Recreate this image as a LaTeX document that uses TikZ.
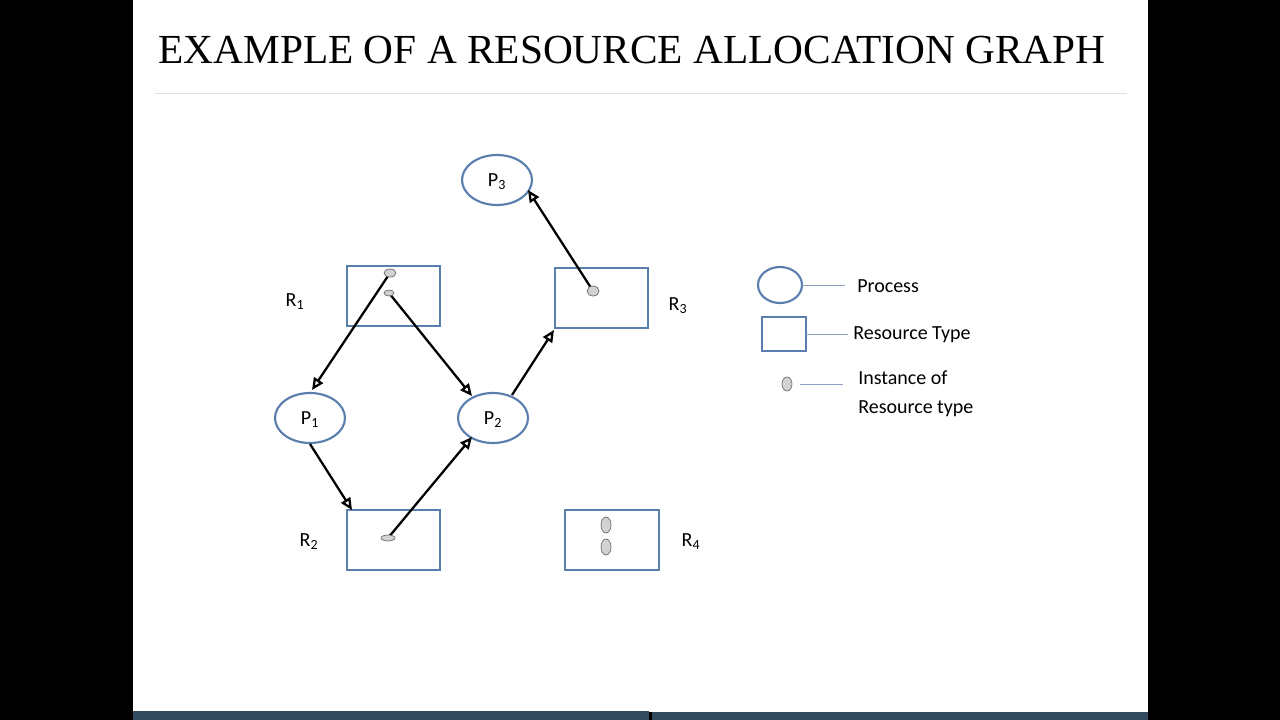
\documentclass[tikz,border=0pt]{standalone}
\usepackage{fontspec}
\setmainfont{Liberation Serif}
\newfontfamily\carlitofont{Carlito}
\usetikzlibrary{arrows.meta}
\definecolor{bl}{HTML}{5A7FAE}
\definecolor{bar}{HTML}{33495E}
\tikzset{
 proc/.style={draw=bl,line width=1.6pt},
 res/.style={draw=bl,line width=1.6pt},
 inst/.style={draw=gray!80!black,fill=gray!35,line width=0.5pt},
 edge/.style={line width=1.7pt,-{Stealth[length=9pt,width=8pt,inset=0pt,open]}},
 lab/.style={font=\carlitofont\fontsize{15}{17}\selectfont,inner sep=0pt},
 leg/.style={draw=bl!70,line width=0.6pt}
}
\begin{document}
\begin{tikzpicture}[x=0.75pt,y=-0.75pt]
\useasboundingbox (0,0) rectangle (1280,720);
\fill[black] (0,0) rectangle (1280,720);
\fill[white] (133,0) rectangle (1148,712);
\fill[bar] (133,711) rectangle (649,720);
\fill[bar] (652,712) rectangle (1148,720);
\node (title) at (632,50) {\fontsize{31}{34}\selectfont EXAMPLE OF A RESOURCE ALLOCATION GRAPH};
\draw[gray!25,line width=0.6pt] (155,93) -- (1127,93);
% processes
\draw[proc] (497,180) ellipse (35 and 25);
\node[lab] (P3) at (497,182) {P\textsubscript{3}};
\draw[proc] (310,418) ellipse (35 and 25);
\node[lab] (P1) at (310,420) {P\textsubscript{1}};
\draw[proc] (493,418) ellipse (35 and 25);
\node[lab] (P2) at (493,420) {P\textsubscript{2}};
% resources
\draw[res] (347,266) rectangle (440,326);
\draw[res] (555,268) rectangle (648,328);
\draw[res] (347,510) rectangle (440,570);
\draw[res] (565,510) rectangle (659,570);
\node[lab] (R1) at (295,302) {R\textsubscript{1}};
\node[lab] (R2) at (309,542) {R\textsubscript{2}};
\node[lab] (R3) at (678,306) {R\textsubscript{3}};
\node[lab] (R4) at (691,542) {R\textsubscript{4}};
% edges
\draw[edge] (390,273) -- (312,390);
\draw[edge] (389,293) -- (472,396);
\draw[edge] (310,444) -- (352,510);
\draw[edge] (388,538) -- (472,437);
\draw[edge] (512,395) -- (554,330);
\draw[edge] (593,291) -- (528,190);
% instances
\draw[inst] (390,273) ellipse (6 and 4);
\draw[inst] (389,293) ellipse (5 and 3);
\draw[inst] (593,291) ellipse (6 and 5);
\draw[inst] (388,538) ellipse (7 and 3);
\draw[inst] (606,525) ellipse (5 and 8);
\draw[inst] (606,547) ellipse (5 and 8);
% legend
\draw[proc] (780,285) ellipse (22 and 18);
\draw[leg] (802,285) -- (845,285);
\node[lab,anchor=west] (l1) at (857,286) {Process};
\draw[res] (762,317) rectangle (806,351);
\draw[leg] (806,334) -- (848,334);
\node[lab,anchor=west] (l2) at (853,335) {Resource Type};
\draw[inst] (787,384) ellipse (5 and 7);
\draw[leg] (800,384) -- (843,384);
\node[lab,anchor=west] (l3) at (858,378) {Instance of};
\node[lab,anchor=west] (l4) at (858,409) {Resource type};
\end{tikzpicture}
\end{document}
